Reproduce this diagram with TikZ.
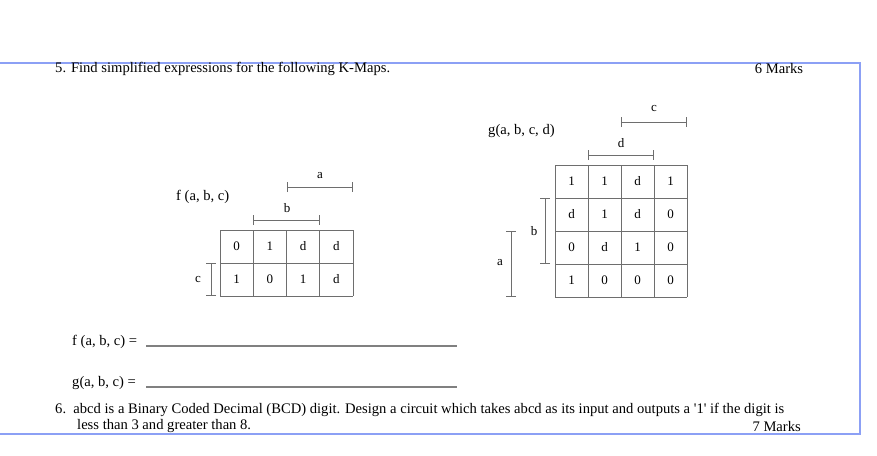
\documentclass[tikz,border=0pt]{standalone}
\usepackage{fontspec}
\setmainfont{Liberation Serif}
\usetikzlibrary{arrows.meta}
\definecolor{framec}{RGB}{140,160,245}
\definecolor{gridc}{RGB}{110,110,110}
\begin{document}
\begin{tikzpicture}[x=1pt,y=-1pt,
  txt/.style={inner sep=0pt,font=\fontsize{14.6}{16}\selectfont},
  cell/.style={inner sep=0pt,font=\fontsize{13}{15}\selectfont},
  grid/.style={draw=gridc,line width=0.9pt},
  bar/.style={draw=gridc,line width=0.9pt,{Bar[width=10pt]}-{Bar[width=10pt]}},
  frame/.style={draw=framec,line width=2.5pt}]
\useasboundingbox (0,0) rectangle (877,455);
\draw[frame] (0,63) -- (860,63) -- (860,434) -- (0,434);
\node[txt,anchor=west] (t5) at (55,69) {5. Find simplified expressions for the following K-Maps.};
\node[txt] (m6) at (779,69) {6 Marks};
% f map
\foreach \i in {0,...,4} \draw[grid] (220+33.25*\i,230) -- (220+33.25*\i,296);
\foreach \j in {0,1,2} \draw[grid] (220,230+33*\j) -- (353,230+33*\j);
\foreach \v [count=\i from 0] in {0,1,d,d}
  \node[cell] (fa\i) at (236.6+33.25*\i,246.5) {\v};
\foreach \v [count=\i from 0] in {1,0,1,d}
  \node[cell] (fb\i) at (236.6+33.25*\i,279.5) {\v};
\coordinate (fa1) at (287,187); \coordinate (fa2) at (353,187);
\draw[bar] (fa1) -- (fa2);
\node[cell] (la) at (320,176) {a};
\coordinate (fb1) at (253,220); \coordinate (fb2) at (320,220);
\draw[bar] (fb1) -- (fb2);
\node[cell] (lb) at (287,208) {b};
\coordinate (fc1) at (211,263); \coordinate (fc2) at (211,296);
\draw[bar] (fc1) -- (fc2);
\node[cell] (lc) at (198,279) {c};
\node[txt,anchor=west] (fl) at (176,197) {f (a, b, c)};
% g map
\foreach \i in {0,...,4} \draw[grid] (555+33*\i,165) -- (555+33*\i,297);
\foreach \j in {0,...,4} \draw[grid] (555,165+33*\j) -- (687,165+33*\j);
\foreach \r/\row in {0/{1,1,d,1},1/{d,1,d,0},2/{0,d,1,0},3/{1,0,0,0}}
  \foreach \v [count=\i from 0] in \row
    \node[cell] (g\r\i) at (571.5+33*\i,181.5+33*\r) {\v};
\coordinate (gc1) at (621,122); \coordinate (gc2) at (687,122);
\draw[bar] (gc1) -- (gc2);
\node[cell] (gcl) at (654,108) {c};
\coordinate (gd1) at (588,155); \coordinate (gd2) at (654,155);
\draw[bar] (gd1) -- (gd2);
\node[cell] (gdl) at (621,143) {d};
\coordinate (gb1) at (545,198); \coordinate (gb2) at (545,264);
\draw[bar] (gb1) -- (gb2);
\node[cell] (gbl) at (534,231) {b};
\coordinate (ga1) at (511,231); \coordinate (ga2) at (511,297);
\draw[bar] (ga1) -- (ga2);
\node[cell] (gal) at (500,263) {a};
\node[txt,anchor=west] (gl) at (488,131) {g(a, b, c, d)};
% answers
\node[txt,anchor=west] (fe) at (72,342) {f (a, b, c) =};
\coordinate (f1) at (146,346); \coordinate (f2) at (457,346);
\draw[gray,line width=1.2pt] (f1) -- (f2);
\node[txt,anchor=west] (ge) at (72,383) {g(a, b, c) =};
\coordinate (g1) at (146,387); \coordinate (g2) at (457,387);
\draw[gray,line width=1.2pt] (g1) -- (g2);
\node[txt,anchor=west] (q6) at (55,410) {6.\ \ abcd is a Binary Coded Decimal (BCD) digit. Design a circuit which takes abcd as its input and outputs a \textquotesingle1\textquotesingle\ if the digit is};
\node[txt,anchor=west] (q6b) at (77,426) {less than 3 and greater than 8.};
\node[txt,anchor=east] (m7) at (801,426) {7 Marks};
\end{tikzpicture}
\end{document}
